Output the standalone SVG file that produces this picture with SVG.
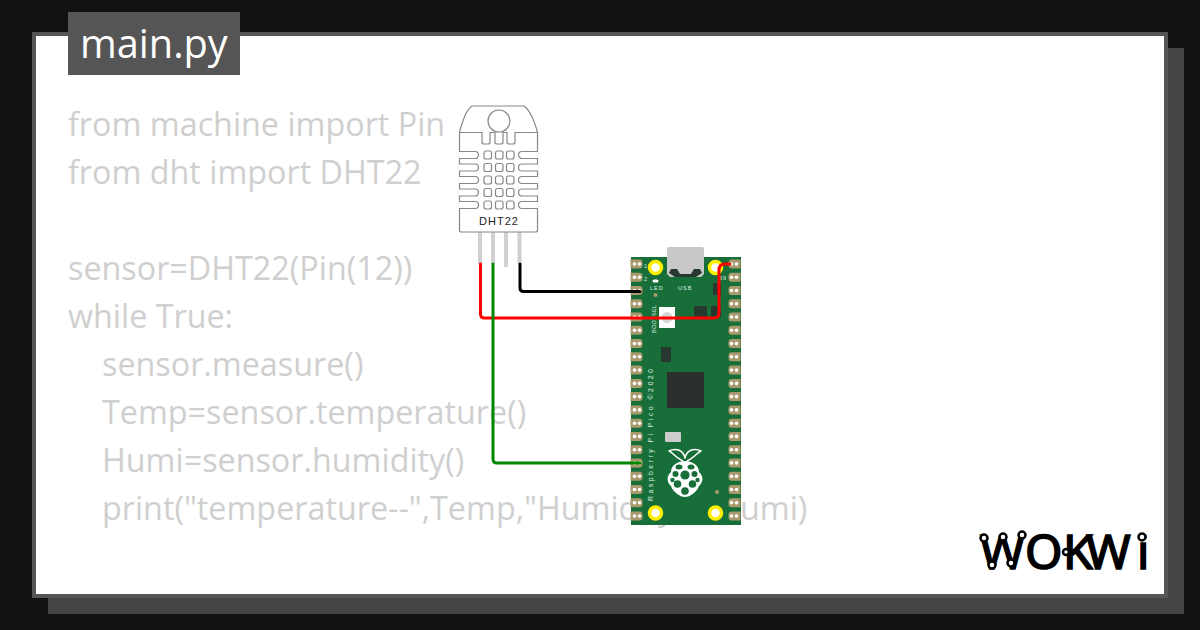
<svg xmlns="http://www.w3.org/2000/svg" width="1200" height="630" viewBox="0 0 1200 630">
<style>
.code{font:32.300px "Open Sans","Noto Sans",sans-serif;fill:#cfcfcf}
.tab{font:39.700px "Open Sans","Noto Sans",sans-serif;fill:#fff}
.w{fill:none;stroke-width:3;stroke-linecap:round;stroke-linejoin:round}
.line{fill:#fff;stroke:#888;stroke-width:1.200}
.silk{font:5.500px "Liberation Sans",sans-serif;fill:#dfeee4;letter-spacing:1px}
.chip{fill:#27392f}
.pin{fill:#d0d0d0}
.logo{font:48px "Noto Sans",sans-serif;fill:#000;stroke:#000;stroke-width:1.600}
.ring{fill:#fff;stroke:#000;stroke-width:2.500}
</style>
<defs>
<g id="pad"><path d="M-6 -4.500H3Q6 -4.500 6 -1V1Q6 4.500 3 4.500H-6Z" fill="#a99a6d"/><circle cx="-2" r="1.800" fill="#fff"/><circle cx="3" r="1.800" fill="#fff"/></g>
<g id="padr"><path d="M6 -4.500H-3Q-6 -4.500 -6 -1V1Q-6 4.500 -3 4.500H6Z" fill="#a99a6d"/><circle cx="2" r="1.800" fill="#fff"/><circle cx="-3" r="1.800" fill="#fff"/></g>
<g id="hole"><circle r="6" fill="#fff" stroke="#fe0" stroke-width="3.500"/></g>
</defs>
<rect width="1200" height="630" fill="#111"/>
<rect x="48" y="48" width="1136" height="566" fill="#444"/>
<rect x="34" y="34" width="1132" height="562" fill="#fff" stroke="#555" stroke-width="4"/>
<rect x="68" y="12" width="172" height="63" fill="#555"/>
<text class="tab" x="80" y="58">main.py</text>
<g id="code">
<text class="code" x="68" y="136">from machine import Pin</text>
<text class="code" x="68" y="184">from dht import DHT22</text>
<text class="code" x="68" y="280">sensor=DHT22(Pin(12))</text>
<text class="code" x="68" y="328">while True:</text>
<text class="code" x="102" y="376">sensor.measure()</text>
<text class="code" x="102" y="424">Temp=sensor.temperature()</text>
<text class="code" x="102" y="472">Humi=sensor.humidity()</text>
<text class="code" x="102" y="520">print("temperature--",Temp,"Humidity--",Humi)</text>
</g>
<g id="dht22">
<rect class="pin" x="478" y="232" width="4" height="32"/>
<rect class="pin" x="491" y="232" width="4" height="32"/>
<rect class="pin" x="504" y="232" width="4" height="35"/>
<rect class="pin" x="517.500" y="232" width="4" height="32"/>
<path class="line" d="M459.500 132C463 120 466 110 472 106H524C530 110 534 120 537.500 132V230Q537.500 232 535.500 232H461.500Q459.500 232 459.500 230Z"/>
<circle class="line" cx="499" cy="121" r="11"/>
<path d="M459 132.500H482V142Q482 144 484 144H488Q490 144 490 142V132.500H495V142Q495 144 497 144H501Q503 144 503 142V132.500H507V142Q507 144 509 144H513Q515 144 515 142V132.500H538" fill="none" stroke="#888" stroke-width="1.200"/>
<g fill="#fff" stroke="#888" stroke-width="1.200">
<path d="M459 151.500H475A3.500 3.500 0 0 1 475 158.500H459M538 151.500H522A3.500 3.500 0 0 0 522 158.500H538"/>
<path d="M459 164H475A3.500 3.500 0 0 1 475 171H459M538 164H522A3.500 3.500 0 0 0 522 171H538"/>
<path d="M459 176.500H475A3.500 3.500 0 0 1 475 183.500H459M538 176.500H522A3.500 3.500 0 0 0 522 183.500H538"/>
<path d="M459 189H475A3.500 3.500 0 0 1 475 196H459M538 189H522A3.500 3.500 0 0 0 522 196H538"/>
<path d="M459 201.500H475A3.500 3.500 0 0 1 475 208.500H459M538 201.500H522A3.500 3.500 0 0 0 522 208.500H538"/>
<rect x="484" y="151" width="7.500" height="8" rx="2"/><rect x="495.500" y="151" width="7.500" height="8" rx="2"/><rect x="506.500" y="151" width="7.500" height="8" rx="2"/>
<rect x="484" y="163.500" width="7.500" height="8" rx="2"/><rect x="495.500" y="163.500" width="7.500" height="8" rx="2"/><rect x="506.500" y="163.500" width="7.500" height="8" rx="2"/>
<rect x="484" y="176" width="7.500" height="8" rx="2"/><rect x="495.500" y="176" width="7.500" height="8" rx="2"/><rect x="506.500" y="176" width="7.500" height="8" rx="2"/>
<rect x="484" y="188.500" width="7.500" height="8" rx="2"/><rect x="495.500" y="188.500" width="7.500" height="8" rx="2"/><rect x="506.500" y="188.500" width="7.500" height="8" rx="2"/>
<rect x="484" y="201" width="7.500" height="8" rx="2"/><rect x="495.500" y="201" width="7.500" height="8" rx="2"/><rect x="506.500" y="201" width="7.500" height="8" rx="2"/>
</g>
<text x="499" y="225" text-anchor="middle" font-family="'Liberation Sans',sans-serif" font-size="11" letter-spacing="1" fill="#222">DHT22</text>
</g>
<g id="pico">
<rect x="631" y="257" width="110" height="268" fill="#176e38"/>
<path d="M667 249Q667 247 669 247H702Q704 247 704 249V274L701 277H670L667 274Z" fill="#c8c8c8"/>
<path d="M671 269H677L680 274H691L694 269H700L702 273L696 277H675L669 273Z" fill="#27392f"/>
<use href="#hole" x="655.500" y="267.500"/><use href="#hole" x="715.500" y="267.500"/><use href="#hole" x="655.500" y="513"/><use href="#hole" x="715.500" y="513"/>
<use href="#pad" x="636.500" y="264"/><use href="#pad" x="636.500" y="277.300"/><use href="#pad" x="636.500" y="290.500"/><use href="#pad" x="636.500" y="303.800"/><use href="#pad" x="636.500" y="317"/><use href="#pad" x="636.500" y="330.300"/><use href="#pad" x="636.500" y="343.600"/><use href="#pad" x="636.500" y="356.800"/><use href="#pad" x="636.500" y="370.100"/><use href="#pad" x="636.500" y="383.400"/><use href="#pad" x="636.500" y="396.600"/><use href="#pad" x="636.500" y="409.900"/><use href="#pad" x="636.500" y="423.200"/><use href="#pad" x="636.500" y="436.400"/><use href="#pad" x="636.500" y="449.700"/><use href="#pad" x="636.500" y="462.900"/><use href="#pad" x="636.500" y="476.200"/><use href="#pad" x="636.500" y="489.500"/><use href="#pad" x="636.500" y="502.700"/><use href="#pad" x="636.500" y="516"/>
<use href="#padr" x="734.500" y="264"/><use href="#padr" x="734.500" y="277.300"/><use href="#padr" x="734.500" y="290.500"/><use href="#padr" x="734.500" y="303.800"/><use href="#padr" x="734.500" y="317"/><use href="#padr" x="734.500" y="330.300"/><use href="#padr" x="734.500" y="343.600"/><use href="#padr" x="734.500" y="356.800"/><use href="#padr" x="734.500" y="370.100"/><use href="#padr" x="734.500" y="383.400"/><use href="#padr" x="734.500" y="396.600"/><use href="#padr" x="734.500" y="409.900"/><use href="#padr" x="734.500" y="423.200"/><use href="#padr" x="734.500" y="436.400"/><use href="#padr" x="734.500" y="449.700"/><use href="#padr" x="734.500" y="462.900"/><use href="#padr" x="734.500" y="476.200"/><use href="#padr" x="734.500" y="489.500"/><use href="#padr" x="734.500" y="502.700"/><use href="#padr" x="734.500" y="516"/>
<rect class="chip" x="694" y="306" width="13" height="11"/><rect class="chip" x="711" y="306" width="10" height="11"/><rect class="chip" x="713" y="283" width="8" height="12"/><rect class="chip" x="661" y="347" width="10" height="15"/>
<rect x="667" y="372" width="37" height="36" fill="#2b2f2d"/>
<rect x="659" y="307" width="16" height="21" fill="#fff"/><circle cx="667" cy="317.500" r="5.500" fill="#d8d8d8"/>
<rect x="665" y="432" width="16" height="10" rx="1" fill="#ccc"/>
<rect x="652.500" y="279.500" width="6" height="3" rx="1.500" fill="#fff"/>
<circle cx="655.500" cy="295" r="2" fill="#a99a6d"/><circle cx="717" cy="492" r="2" fill="#a99a6d"/>
<text class="silk" x="650" y="290">LED</text><text class="silk" x="678" y="290">USB</text>
<text class="silk" x="644" y="268">1</text><text class="silk" x="644" y="281">2</text><text class="silk" x="719" y="280">39</text>
<text class="silk" transform="translate(656 333) rotate(-90)" textLength="29">BOOTSEL</text>
<text class="silk" transform="translate(653 501) rotate(-90)" style="font-size:7px" textLength="133">Raspberry Pi Pico ©2020</text>
<g id="raspberry">
<path d="M683 461C676 458 672 452 669 451C675 448 683 449 685 458C687 449 695 448 701 451C698 452 694 458 687 461" fill="none" stroke="#fff" stroke-width="1.500" stroke-linejoin="round"/>
<path d="M685 461C692 461 699 465 699 472C704 476 703 483 699 486C697 492 690 497 685 497C680 497 673 492 671 486C667 483 666 476 671 472C671 465 678 461 685 461Z" fill="#fff"/>
<g fill="#176e38"><ellipse cx="679" cy="467" rx="3.500" ry="2.500"/><ellipse cx="691" cy="467" rx="3.500" ry="2.500"/><circle cx="685" cy="475" r="4.600"/><circle cx="675.500" cy="474" r="3"/><circle cx="694.500" cy="474" r="3"/><circle cx="672.500" cy="480" r="2.200"/><circle cx="697.500" cy="480" r="2.200"/><circle cx="677.500" cy="484" r="3.800"/><circle cx="692.500" cy="484" r="3.800"/><circle cx="685" cy="491" r="3.800"/></g>
</g>
</g>
<g id="connectors">
<path class="w" stroke="#000" d="M520 264V288Q520 291.500 523.500 291.500H640"/>
<path class="w" stroke="#f00" d="M480.500 264V314Q480.500 318 484.500 318H714Q719 318 719 313V270Q719 264 725 264H730"/>
<path class="w" stroke="#080" d="M493 264V459Q493 463 497 463H640"/>
</g>
<g id="logo">
<text class="logo" x="980 1025 1063 1086 1137" y="569">WOKWi</text>
<circle class="ring" cx="984" cy="538" r="3.500"/><circle class="ring" cx="1003" cy="537" r="3.500"/><circle class="ring" cx="1022" cy="535" r="3.500"/><circle class="ring" cx="992" cy="565" r="3.500"/><circle class="ring" cx="1011" cy="563" r="3.500"/><circle class="ring" cx="1066" cy="552" r="3"/><circle class="ring" cx="1142" cy="537" r="3.500"/>
</g>
</svg>
